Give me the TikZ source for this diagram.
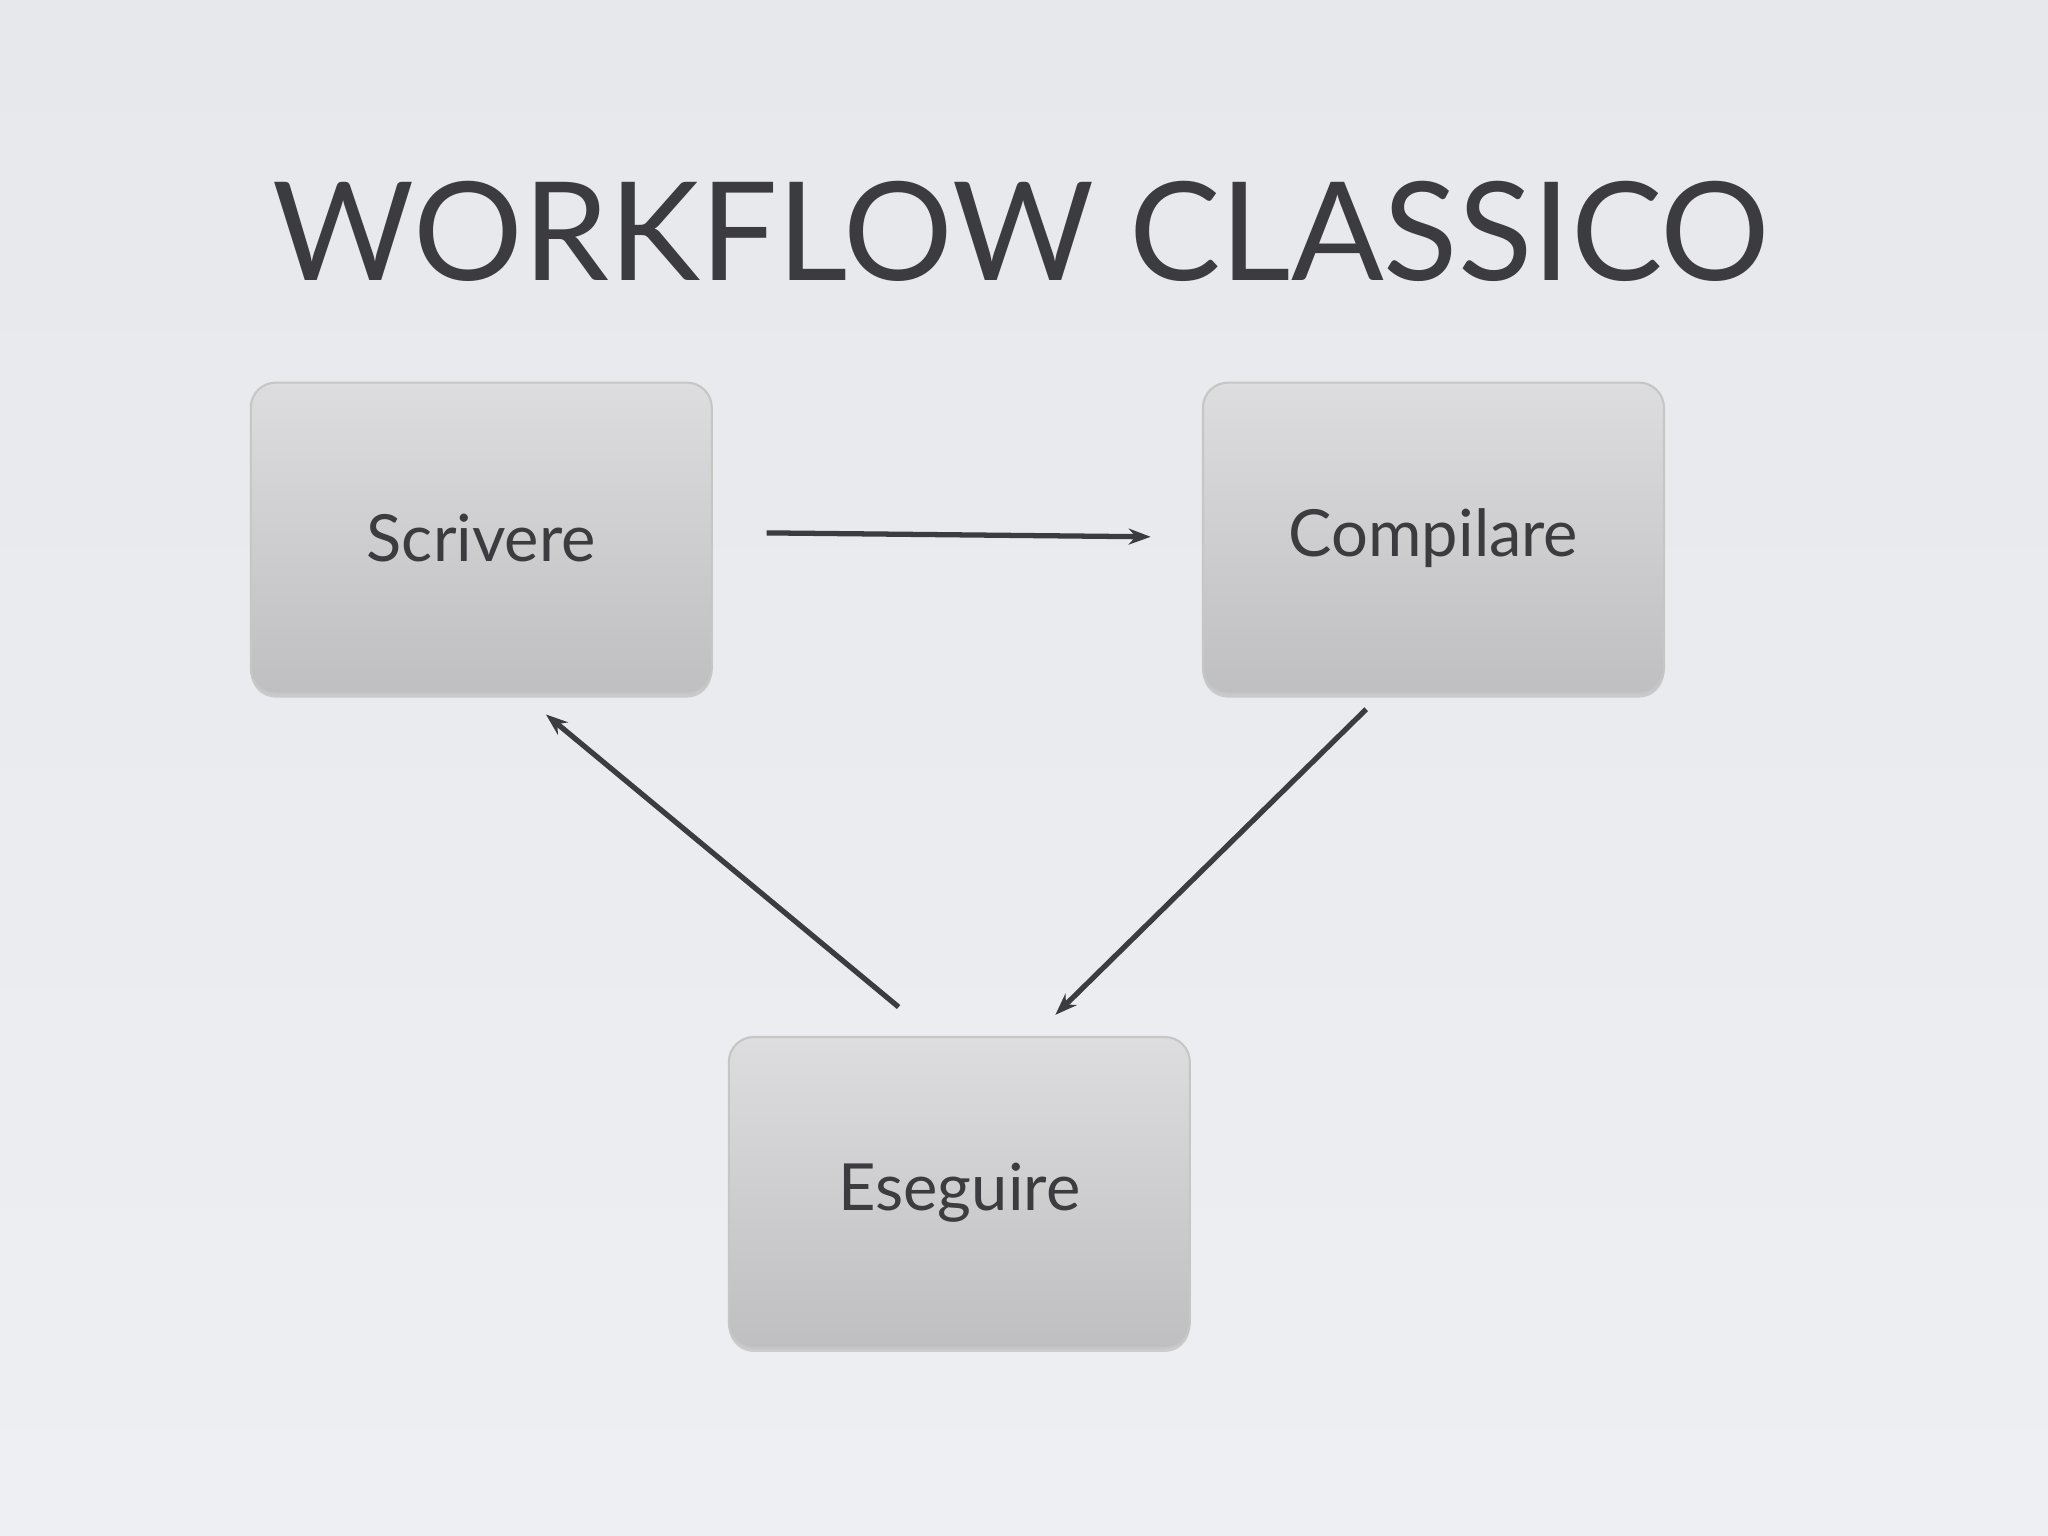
\documentclass[tikz,border=0pt]{standalone}
\usepackage{fontspec}
\setmainfont{Lato}
\usetikzlibrary{shadows,arrows.meta}
\definecolor{ink}{HTML}{3C3C40}
\definecolor{bgA}{HTML}{E6E8EC}
\definecolor{bgB}{HTML}{EEEFF2}
\definecolor{boxT}{HTML}{DDDDDF}
\definecolor{boxB}{HTML}{BFBFC2}
\tikzset{
  box/.style={draw=gray!45, line width=0.6pt, rounded corners=0.25cm, top color=boxT, bottom color=boxB,
    minimum width=4.61cm, minimum height=3.11cm, text=ink, font=\fontsize{18.5}{22}\selectfont,
    drop shadow={shadow xshift=0pt, shadow yshift=-0.04cm, opacity=0.3}},
  conn/.style={draw=ink, line width=1.5pt, -{Stealth[length=0.22cm,width=0.16cm]}}
}
\begin{document}
\begin{tikzpicture}[x=0.01306cm,y=-0.01306cm]
\useasboundingbox (0,0) rectangle (1568,1176);
\shade[top color=bgA, bottom color=bgB] (0,0) rectangle (1568,1176);
\node[text=ink, font=\fontsize{39}{46}\selectfont] (title) at (782,177) {WORKFLOW CLASSICO};
\node[box] (s) at (368.5,412) {\raisebox{-2pt}{Scrivere}};
\node[box] (c) at (1097.5,412) {\raisebox{-2pt}{Compilare}};
\node[box] (e) at (734.5,913) {\raisebox{-2pt}{Eseguire}};
\coordinate (s1) at (587,408); \coordinate (c1) at (881,411);
\coordinate (c2) at (1046,543); \coordinate (e1) at (808,777);
\coordinate (e2) at (688,771); \coordinate (s2) at (418,547);
\draw[conn] (s1) -- (c1);
\draw[conn] (c2) -- (e1);
\draw[conn] (e2) -- (s2);
\end{tikzpicture}
\end{document}
